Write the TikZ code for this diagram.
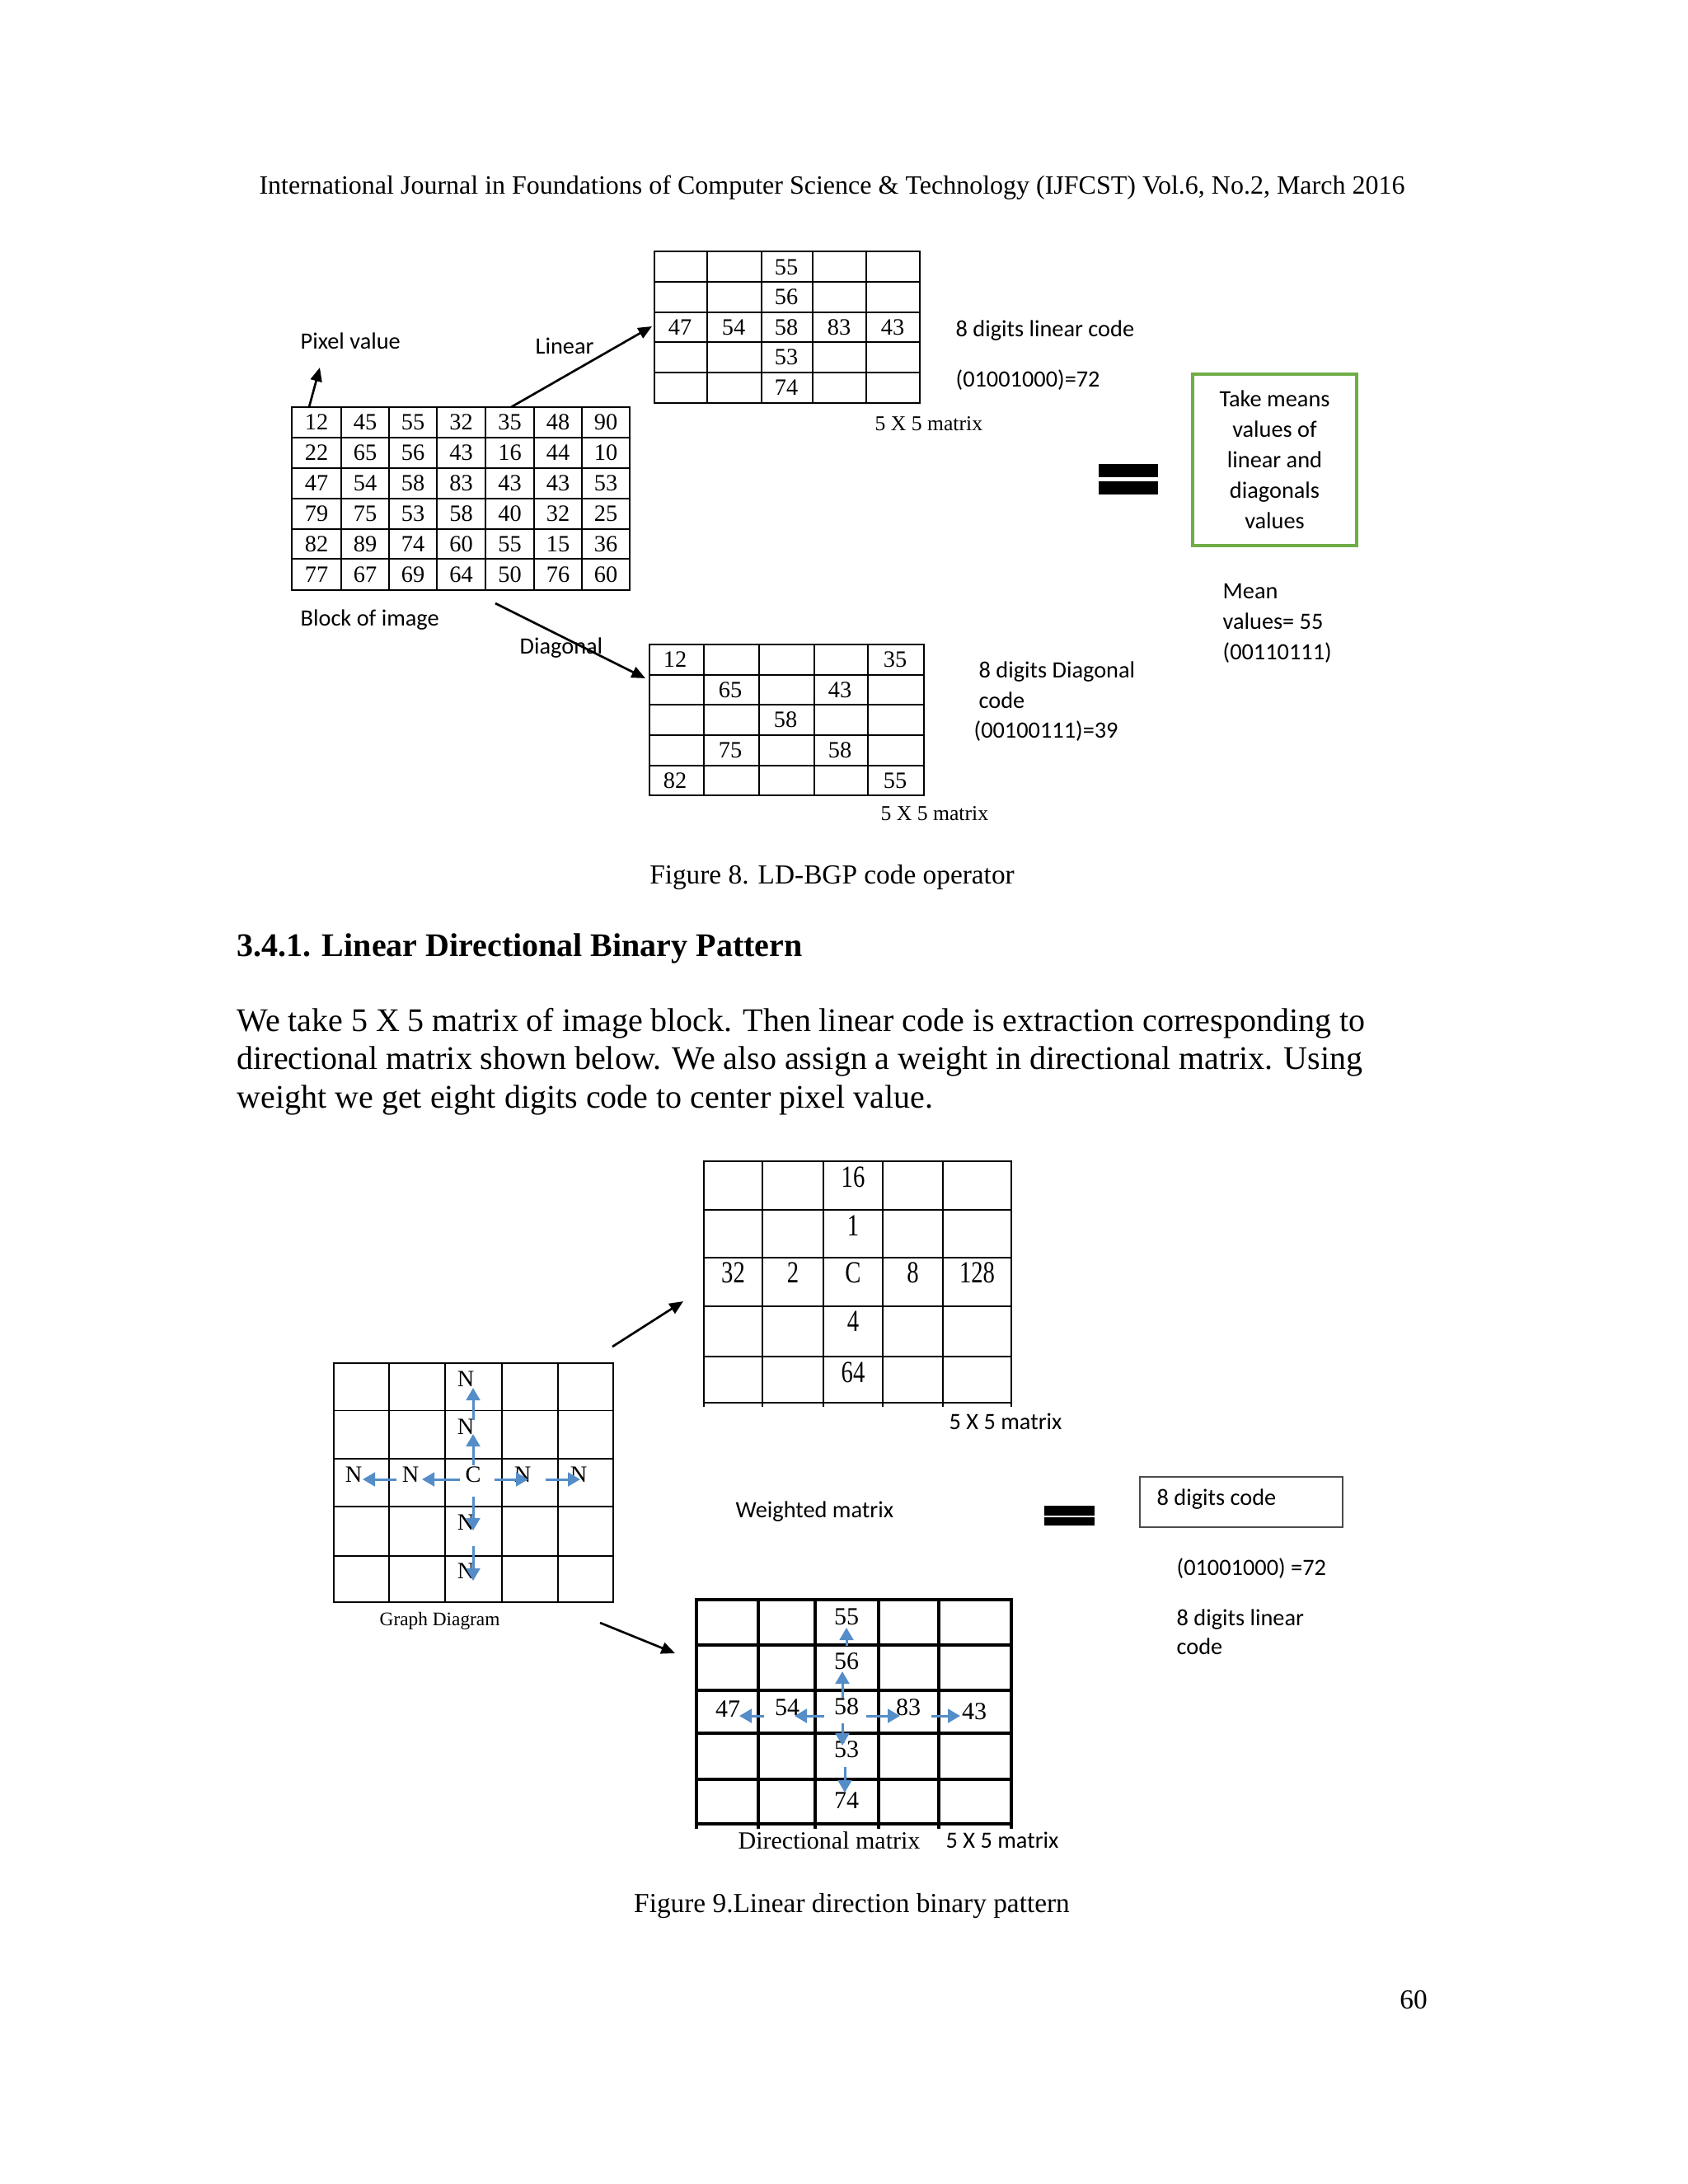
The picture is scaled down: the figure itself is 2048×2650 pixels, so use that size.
\documentclass[tikz,border=0pt]{standalone}
\usepackage{fontspec}
\setmainfont{Liberation Serif}
\newfontfamily\calibfont{Carlito}
\usetikzlibrary{arrows.meta}
\definecolor{arrblue}{RGB}{84,141,200}
\definecolor{boxgreen}{RGB}{112,173,71}
\tikzset{
  tbl/.style={line width=0.55pt, line cap=rect},
  tblthick/.style={line width=1pt, line cap=rect},
  tnum/.style={inner sep=0pt, font=\fontsize{8.5}{10}\selectfont},
  wnum/.style={inner sep=0pt, font=\fontsize{8.6}{10}\selectfont},
  dnum/.style={inner sep=0pt, font=\fontsize{9}{10}\selectfont},
  cb/.style={inner sep=0pt, font=\calibfont\fontsize{8.5}{11.1}\selectfont},
  tmsmall/.style={inner sep=0pt, font=\fontsize{7.7}{9}\selectfont},
  blk/.style={line width=0.8pt, -{Triangle[length=5pt,width=4.2pt]}},
  blu/.style={draw=arrblue, line width=0.9pt, -{Triangle[length=4.5pt,width=5pt]}, color=arrblue},
  body/.style={inner sep=0pt, anchor=west, font=\fontsize{12}{13.9}\selectfont},
}
\begin{document}
\begin{tikzpicture}[x=0.010542cm, y=-0.010542cm]
\useasboundingbox (0,0) rectangle (2048,2650);
\fill[white] (0,0) rectangle (2048,2650);

% header
\node[inner sep=0pt, font=\fontsize{9.6}{12}\selectfont] (header) at (1009.5,228) {International Journal in Foundations of Computer Science \& Technology (IJFCST) Vol.6, No.2, March 2016};

% ================= Figure 8 =================
% big block table
\foreach \x in {354,414,472,530,589,648,706,764} \draw[tbl] (\x,494) -- (\x,716);
\foreach \y in {494,531,568,605,642,678,716} \draw[tbl] (354,\y) -- (764,\y);
\foreach \yy/\vals [count=\r] in {512.5/{12,45,55,32,35,48,90},549.5/{22,65,56,43,16,44,10},586.5/{47,54,58,83,43,43,53},623.5/{79,75,53,58,40,32,25},660/{82,89,74,60,55,15,36},697/{77,67,69,64,50,76,60}}{
  \foreach \v [count=\i] in \vals {
    \pgfmathsetmacro\xx{{384,443,501,559.5,618.5,677,735}[\i-1]}
    \node[tnum] (b-\r-\i) at (\xx,\yy) {\v};
  }
}
% linear table
\foreach \x in {794,858,924,986,1051,1116} \draw[tbl] (\x,305) -- (\x,489);
\foreach \y in {305,342,379,415,452,489} \draw[tbl] (794,\y) -- (1116,\y);
\node[tnum] (l1) at (954,324) {55};
\node[tnum] (l2) at (954,360.5) {56};
\node[tnum] (l3) at (954,397) {58};
\node[tnum] (l4) at (954,433.5) {53};
\node[tnum] (l5) at (954,470.5) {74};
\node[tnum] (l6) at (825,397) {47};
\node[tnum] (l7) at (890,397) {54};
\node[tnum] (l8) at (1018,397) {83};
\node[tnum] (l9) at (1083,397) {43};
% diagonal table
\foreach \x in {788,854,921,988,1053,1121} \draw[tbl] (\x,782) -- (\x,965);
\foreach \y in {782,819,855,892,929,965} \draw[tbl] (788,\y) -- (1121,\y);
\node[tnum] (d1) at (819,800.5) {12};
\node[tnum] (d2) at (1086,800.5) {35};
\node[tnum] (d3) at (886,837) {65};
\node[tnum] (d4) at (1019,837) {43};
\node[tnum] (d5) at (953,873.5) {58};
\node[tnum] (d6) at (886,910.5) {75};
\node[tnum] (d7) at (1019,910.5) {58};
\node[tnum] (d8) at (819,947) {82};
\node[tnum] (d9) at (1086,947) {55};

% labels
\node[cb, anchor=west] (pix) at (364,414) {Pixel value};
\node[cb, anchor=west] (lin) at (649,420) {Linear};
\node[cb, anchor=west] (blk) at (364,752) {Block of image};
\node[cb, anchor=west] (diag) at (630,786) {Diagonal};
\node[cb, anchor=west] (lcode) at (1159,401) {8 digits linear code};
\node[cb, anchor=west] (lval) at (1159,461) {(01001000)=72};
\node[tmsmall, anchor=west] (m1) at (1061,514) {5 X 5 matrix};
\node[tmsmall, anchor=west] (m2) at (1068,987) {5 X 5 matrix};
\node[cb, anchor=west, align=left] (dcode) at (1187,831.5) {8 digits Diagonal\\code};
\node[cb, anchor=west] (dval) at (1181,887) {(00100111)=39};
\node[cb, anchor=west, align=left] (mean) at (1483,756) {Mean\\values= 55\\(00110111)};
\draw[boxgreen, line width=1pt] (1447,454) rectangle (1646,662);
\node[cb, align=center] (gbox) at (1546.5,557.5) {Take means\\values of\\linear and\\diagonals\\values};
\fill[black] (1333,563) rectangle (1405,579);
\fill[black] (1333,584) rectangle (1405,600);

% arrows
\coordinate (pA) at (375,494); \coordinate (pB) at (388,446);
\coordinate (lA) at (620,494); \coordinate (lB) at (791,396);
\coordinate (dA) at (601,732); \coordinate (dB) at (783,823);
\draw[blk] (pA) -- (pB);
\draw[blk] (lA) -- (lB);
\draw[blk] (dA) -- (dB);

\node[inner sep=0pt, font=\fontsize{10}{12}\selectfont] (cap8) at (1009.5,1065) {Figure 8. LD-BGP code operator};

% section heading and body
\node[inner sep=0pt, anchor=west, font=\bfseries\fontsize{12}{14}\selectfont] (sec) at (287,1151) {3.4.1. Linear Directional Binary Pattern};
\node[body] (t1) at (287,1242) {\makebox[410.5pt][s]{We take 5 X 5 matrix of image block. Then linear code is extraction corresponding to}};
\node[body] (t2) at (287,1288) {\makebox[409.7pt][s]{directional matrix shown below. We also assign a weight in directional matrix. Using}};
\node[body] (t3) at (287,1335) {weight we get eight digits code to center pixel value.};

% ================= Figure 9 =================
% weighted matrix
\foreach \x in {854,925,999,1071,1144,1227} \draw[tbl] (\x,1409) -- (\x,1706);
\foreach \y in {1409,1468,1526,1585,1646,1702} \draw[tbl] (854,\y) -- (1227,\y);
\node[wnum] (w1) at (1035,1428) {\scalebox{1}[1.3]{16}};
\node[wnum] (w2) at (1035,1487) {\scalebox{1}[1.3]{1}};
\node[wnum] (w3) at (1035,1544) {\scalebox{1}[1.3]{C}};
\node[wnum] (w4) at (1035,1603) {\scalebox{1}[1.3]{4}};
\node[wnum] (w5) at (1035,1665) {\scalebox{1}[1.3]{64}};
\node[wnum] (w6) at (889.5,1544) {\scalebox{1}[1.3]{32}};
\node[wnum] (w7) at (962,1544) {\scalebox{1}[1.3]{2}};
\node[wnum] (w8) at (1107.5,1544) {\scalebox{1}[1.3]{8}};
\node[wnum] (w9) at (1185.5,1544) {\scalebox{1}[1.3]{128}};
\node[cb, anchor=west] (m3) at (1151,1725) {5 X 5 matrix};

% graph diagram
\foreach \x in {405,472,540,609,677,744} \draw[tbl] (\x,1654) -- (\x,1944);
\foreach \y in {1654,1711.5,1770,1828,1888,1944} \draw[tbl] (405,\y) -- (744,\y);
\node[tnum] (g1) at (565,1673) {N};
\node[tnum] (g2) at (565,1731) {N};
\node[tnum] (g3) at (429,1789) {N};
\node[tnum] (g4) at (498,1789) {N};
\node[tnum] (gc) at (574,1789) {C};
\node[tnum] (g5) at (634,1789) {N};
\node[tnum] (g6) at (702,1789) {N};
\node[tnum] (g7) at (565,1847) {N};
\node[tnum] (g8) at (565,1906) {N};
\node[inner sep=0pt, anchor=west, font=\fontsize{7}{8}\selectfont] (gd) at (460,1967) {Graph Diagram};
% blue arrows graph
\coordinate (ga1) at (574,1778); \coordinate (gb1) at (574,1740);
\coordinate (ga2) at (574,1723); \coordinate (gb2) at (574,1684);
\coordinate (ga3) at (558,1795); \coordinate (gb3) at (512,1795);
\coordinate (ga4) at (481,1795); \coordinate (gb4) at (440,1795);
\coordinate (ga5) at (600,1795); \coordinate (gb5) at (641,1795);
\coordinate (ga6) at (662,1795); \coordinate (gb6) at (704,1795);
\coordinate (ga7) at (574,1816); \coordinate (gb7) at (574,1857);
\coordinate (ga8) at (574,1876); \coordinate (gb8) at (574,1918);
\foreach \k in {1,...,8} \draw[blu] (ga\k) -- (gb\k);

% directional matrix
\foreach \x in {845,920,989,1066,1139,1227} \draw[tblthick] (\x,1941) -- (\x,2217);
\foreach \y in {1941,1996,2051,2103,2159,2213} \draw[tblthick] (845,\y) -- (1227,\y);
\node[dnum] (r1) at (1027,1962) {55};
\node[dnum] (r2) at (1027,2016) {56};
\node[dnum] (r3) at (883,2074) {47};
\node[dnum] (r4) at (955,2072) {54};
\node[dnum] (r5) at (1027,2071) {58};
\node[dnum] (r6) at (1102,2072) {83};
\node[dnum] (r7) at (1182,2077) {43};
\node[dnum] (r8) at (1027,2123) {53};
\node[dnum] (r9) at (1027,2185) {74};
\coordinate (da1) at (1027,1997); \coordinate (db1) at (1027,1975);
\coordinate (da2) at (1022,2060); \coordinate (db2) at (1022,2028);
\coordinate (da3) at (1000,2082); \coordinate (db3) at (964,2082);
\coordinate (da4) at (927,2082); \coordinate (db4) at (897,2082);
\coordinate (da5) at (1051,2082); \coordinate (db5) at (1092,2082);
\coordinate (da6) at (1130,2082); \coordinate (db6) at (1165,2082);
\coordinate (da7) at (1022,2091); \coordinate (db7) at (1022,2118);
\coordinate (da8) at (1025,2144); \coordinate (db8) at (1025,2175);
\foreach \k in {1,...,8} \draw[blu] (da\k) -- (db\k);
\node[dnum, anchor=west] (dm) at (895,2233) {Directional matrix};
\node[cb, anchor=west] (m4) at (1147,2233) {5 X 5 matrix};

% black arrows fig 9
\coordinate (wA) at (743,1634); \coordinate (wB) at (829,1579);
\coordinate (rA) at (728,1969); \coordinate (rB) at (819,2006);
\draw[blk] (wA) -- (wB);
\draw[blk] (rA) -- (rB);

\node[cb, anchor=west] (wm) at (892,1834) {Weighted matrix};
\fill[black] (1267,1827) rectangle (1328,1839);
\fill[black] (1267,1841) rectangle (1328,1851);
\draw[black!70, line width=0.6pt] (1383,1792) rectangle (1629,1853);
\node[cb, anchor=west] (code8) at (1403,1819) {8 digits code};
\node[cb, anchor=west] (cval) at (1427,1903) {(01001000) =72};
\node[cb, anchor=west, align=left, font=\calibfont\fontsize{8.5}{10.5}\selectfont] (lc) at (1427,1980.5) {8 digits linear\\code};

\node[inner sep=0pt, font=\fontsize{10}{12}\selectfont] (cap9) at (1033.5,2313) {Figure 9.Linear direction binary pattern};
\node[inner sep=0pt, font=\fontsize{10}{12}\selectfont] (pnum) at (1715,2427) {60};
\end{tikzpicture}
\end{document}
